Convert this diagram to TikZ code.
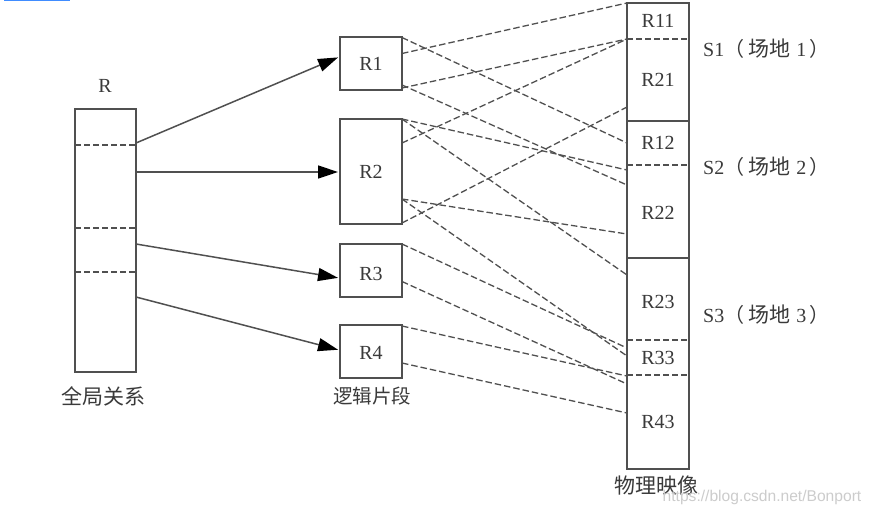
\documentclass[tikz,border=0pt]{standalone}
\usepackage{fontspec}
\setmainfont{Liberation Serif}
\setsansfont{Liberation Sans}
\newfontfamily\cjk{Noto Sans CJK SC}
\usetikzlibrary{arrows.meta}
\definecolor{ink}{HTML}{505050}
\definecolor{txt}{HTML}{3A3A3A}
\newcommand{\sitelab}[2]{#1{\cjk\fontsize{20}{22}\selectfont （}\kern4pt{\cjk\fontsize{21}{22}\selectfont 场地}\kern6pt #2\kern3pt{\cjk\fontsize{20}{22}\selectfont ）}}
\newcommand{\lowered}[2]{\raisebox{-#1}[13pt][0pt]{#2}}
\tikzset{
  frame/.style={draw=ink,line width=1.5pt,fill=white,inner sep=0pt,outer sep=0pt,anchor=north west,text=txt,font=\fontsize{20}{22}\selectfont},
  seg/.style={inner sep=0pt,outer sep=0pt,anchor=north west,minimum width=62pt,text=txt,font=\fontsize{20}{22}\selectfont},
  divider/.style={draw=ink,line width=1.5pt,dash pattern=on 6pt off 3pt},
  solidline/.style={draw=ink,line width=1.5pt},
  link/.style={draw=ink,line width=1.3pt,dash pattern=on 6.5pt off 3pt},
  arrowline/.style={draw=ink,line width=1.5pt,-{Triangle[length=20pt,width=13pt,color=black]},shorten >=1pt},
  lab/.style={inner sep=0pt,text=txt,font=\fontsize{20}{22}\selectfont},
  cjklab/.style={inner sep=0pt,text=txt,font=\cjk\fontsize{21}{23}\selectfont},
}
\begin{document}
\begin{tikzpicture}[x=1pt,y=-1pt]
\useasboundingbox (0,0) rectangle (872,515);
\fill[white] (0,0) rectangle (872,515);
\fill[blue!60!cyan!75!white] (4,0) rectangle (70,1.2);
% global relation
\node[frame,minimum width=61pt,minimum height=263pt] (R) at (75,109) {};
\node[lab] (Rlab) at (105,86) {R};
\coordinate (d1l) at (75,145); \coordinate (d1r) at (136,145);
\coordinate (d2l) at (75,228); \coordinate (d2r) at (136,228);
\coordinate (d3l) at (75,272); \coordinate (d3r) at (136,272);
\draw[divider] (d1l) -- (d1r);
\draw[divider] (d2l) -- (d2r);
\draw[divider] (d3l) -- (d3r);
\node[cjklab] (glab) at (103,396) {全局关系};
% fragments
\node[frame,minimum width=62pt,minimum height=53pt] (r1) at (340,37) {R1};
\node[frame,minimum width=62pt,minimum height=105pt] (r2) at (340,119) {R2};
\node[frame,minimum width=62pt,minimum height=53pt] (r3) at (340,244) {\lowered{3pt}{R3}};
\node[frame,minimum width=62pt,minimum height=53pt] (r4) at (340,325) {\lowered{1.5pt}{R4}};
\node[cjklab,font=\cjk\fontsize{19.5}{22}\selectfont] (flab) at (372,396) {逻辑片段};
% physical column
\node[frame,minimum width=62pt,minimum height=466pt] (col) at (627,3) {};
\node[seg,minimum height=36pt] (p11) at (627,3) {R11};
\node[seg,minimum height=82pt] (p21) at (627,39) {R21};
\node[seg,minimum height=44pt] (p12) at (627,121) {R12};
\node[seg,minimum height=93pt] (p22) at (627,165) {\lowered{1pt}{R22}};
\node[seg,minimum height=82pt] (p23) at (627,258) {\lowered{3pt}{R23}};
\node[seg,minimum height=35pt] (p33) at (627,340) {R33};
\node[seg,minimum height=94pt] (p43) at (627,375) {R43};
\draw[divider] (p11.south west) -- (p11.south east);
\draw[solidline] (p21.south west) -- (p21.south east);
\draw[divider] (p12.south west) -- (p12.south east);
\draw[solidline] (p22.south west) -- (p22.south east);
\draw[divider] (p23.south west) -- (p23.south east);
\draw[divider] (p33.south west) -- (p33.south east);
\node[lab,anchor=west] (s1) at (703,49) {\sitelab{S1}{1}};
\node[lab,anchor=west] (s2) at (703,167) {\sitelab{S2}{2}};
\node[lab,anchor=west] (s3) at (703,315) {\sitelab{S3}{3}};
\node[cjklab] (plab) at (656,486) {物理映像};
\node[inner sep=0pt,text=black!20,font=\sffamily\fontsize{15.6}{18}\selectfont] (wm) at (762,497) {https://blog.csdn.net/Bonport};
% arrows
\coordinate (a1s) at (136,143); \coordinate (a1e) at (339,57);
\coordinate (a2s) at (136,172); \coordinate (a2e) at (339,172);
\coordinate (a3s) at (136,244); \coordinate (a3e) at (339,278);
\coordinate (a4s) at (136,297); \coordinate (a4e) at (339,350);
\draw[arrowline] (a1s) -- (a1e);
\draw[arrowline] (a2s) -- (a2e);
\draw[arrowline] (a3s) -- (a3e);
\draw[arrowline] (a4s) -- (a4e);
% left ends
\coordinate (l1a) at (402,37.5); \coordinate (l1b) at (402,53.5);
\coordinate (l1c) at (402,85); \coordinate (l1d) at (402,88);
\coordinate (l2a) at (402,119); \coordinate (l2b) at (402,143);
\coordinate (l2c) at (402,199); \coordinate (l2d) at (402,223);
\coordinate (l3a) at (402,244); \coordinate (l3b) at (402,281.5);
\coordinate (l4a) at (402,326); \coordinate (l4b) at (402,363);
% right ends
\coordinate (e1) at (627,3); \coordinate (e2) at (627,39);
\coordinate (e3) at (627,107); \coordinate (e4) at (627,143);
\coordinate (e5) at (627,170); \coordinate (e6) at (627,185);
\coordinate (e7) at (627,234); \coordinate (e8) at (627,275);
\coordinate (e9) at (627,348); \coordinate (e10) at (627,356);
\coordinate (e11) at (627,376); \coordinate (e12) at (627,384);
\coordinate (e13) at (627,413);
\draw[link] (l1a) -- (e4);
\draw[link] (l1b) -- (e1);
\draw[link] (l1c) -- (e6);
\draw[link] (l1d) -- (e2);
\draw[link] (l2a) -- (e5);
\draw[link] (l2a) -- (e8);
\draw[link] (l2b) -- (e2);
\draw[link] (l2c) -- (e7);
\draw[link] (l2c) -- (e10);
\draw[link] (l2d) -- (e3);
\draw[link] (l3a) -- (e9);
\draw[link] (l3b) -- (e12);
\draw[link] (l4a) -- (e11);
\draw[link] (l4b) -- (e13);
\end{tikzpicture}
\end{document}
